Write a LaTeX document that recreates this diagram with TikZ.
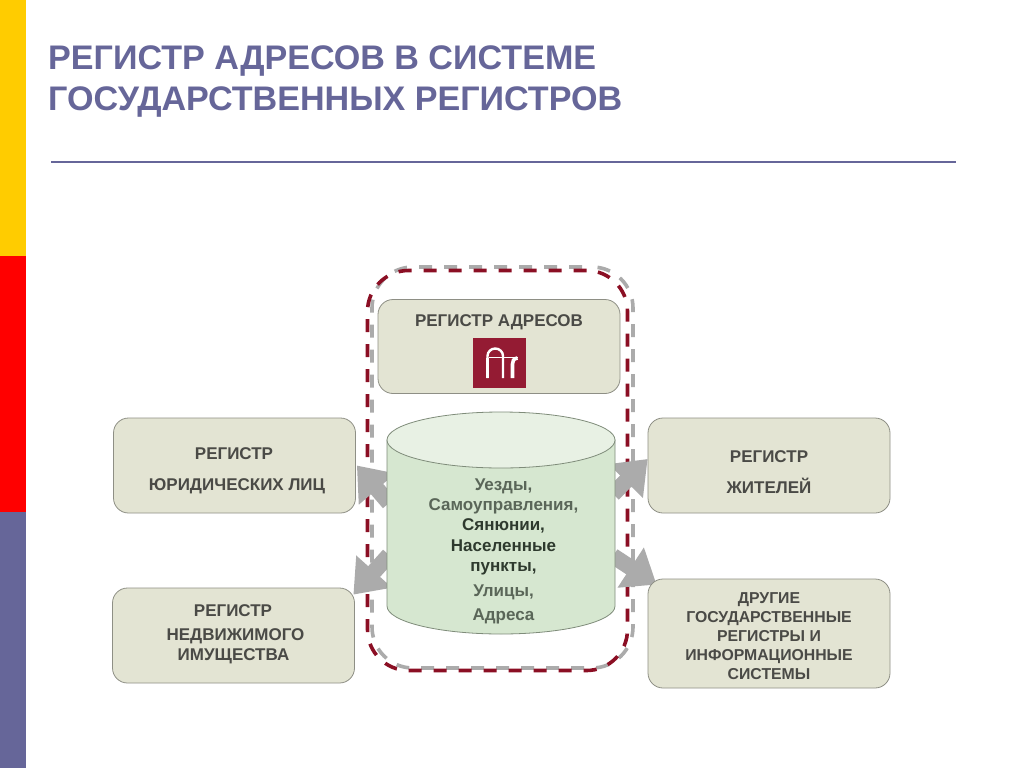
\documentclass[tikz,border=0pt]{standalone}
\usepackage{fontspec}
\setmainfont{Liberation Sans}
\usetikzlibrary{arrows.meta,shapes.geometric}
\pgfdeclarelayer{back}
\pgfdeclarelayer{mid}
\pgfsetlayers{back,mid,main}
\definecolor{barpurple}{HTML}{666699}
\definecolor{baryellow}{HTML}{FFCC00}
\definecolor{boxfill}{HTML}{E3E4D3}
\definecolor{boxline}{HTML}{8E8F85}
\definecolor{cylbody}{HTML}{D6E7D0}
\definecolor{cyltop}{HTML}{E8F1E4}
\definecolor{cylline}{HTML}{7F8C7A}
\definecolor{arrowgray}{HTML}{ABABAB}
\definecolor{dashred}{HTML}{8B0F24}
\definecolor{logored}{HTML}{941B33}
\definecolor{boxtext}{HTML}{4A4A46}
\definecolor{cyltext}{HTML}{5A6658}
\definecolor{cyldark}{HTML}{2E3A2E}
\tikzset{
  regbox/.style={draw=boxline,fill=boxfill,line width=0.8pt,rounded corners=15pt,inner sep=0pt,minimum width=242pt},
  boxlabel/.style={text=boxtext,font=\fontsize{17}{20}\bfseries\selectfont,anchor=base,inner sep=0pt},
  smalllabel/.style={text=boxtext,font=\fontsize{15.8}{19}\bfseries\selectfont,anchor=base,inner sep=0pt},
  cyllabel/.style={text=cyltext,font=\fontsize{17}{20}\bfseries\selectfont,anchor=base,inner sep=0pt},
  titlelabel/.style={text=barpurple,font=\fontsize{34.1}{40}\bfseries\selectfont,anchor=base west,inner sep=0pt},
  frameg/.style={draw=arrowgray,line width=3.6pt,dash pattern=on 13pt off 12pt,dash phase=15pt,rounded corners=41pt,inner sep=0pt},
  framer/.style={draw=dashred,line width=3.6pt,dash pattern=on 13pt off 12pt,rounded corners=41pt,inner sep=0pt},
  blockarrow/.style={draw=arrowgray,line width=16pt,-{Triangle[length=31pt,width=46pt,fill=arrowgray]}},
  logostroke/.style={draw=white,line width=2.4pt}
}
\begin{document}
\begin{tikzpicture}[x=1pt,y=-1pt]
\useasboundingbox (0,0) rectangle (1024,768);
\begin{pgfonlayer}{back}
\fill[white] (0,0) rectangle (1024,768);
\end{pgfonlayer}
% side bars
\fill[baryellow] (0,0) rectangle (26,256);
\fill[red] (0,256) rectangle (26,512);
\fill[barpurple] (0,512) rectangle (26,768);
% title
\node[titlelabel] (t1) at (48,69) {РЕГИСТР АДРЕСОВ В СИСТЕМЕ};
\node[titlelabel] (t2) at (48,110) {ГОСУДАРСТВЕННЫХ РЕГИСТРОВ};
\draw[barpurple,line width=2pt] (51,161.5) -- (956,161.5);
% named anchors for connector tails
\coordinate (tailLT) at (389,503);
\coordinate (tailLB) at (389,555);
\coordinate (tailRT) at (613,494);
\coordinate (tailRB) at (613,556);
% boxes
\node[regbox,minimum height=95pt] (jur) at (234.5,465.5) {};
\node[regbox,minimum height=95pt] (kin) at (233.5,635.5) {};
\node[regbox,minimum height=95pt] (zhi) at (769,465.5) {};
\node[regbox,minimum height=109pt] (oth) at (769,633.5) {};
% frames
\begin{pgfonlayer}{back}
\node[frameg,minimum width=261pt,minimum height=401pt] (fg) at (502.5,467.5) {};
\node[framer,minimum width=260pt,minimum height=400pt] (fr) at (497.5,470.5) {};
\end{pgfonlayer}
% arrows, over the frames and under boxes
\begin{pgfonlayer}{mid}
\draw[blockarrow] (tailLT) -- ([xshift=1pt]jur.east);
\draw[blockarrow] (tailRT) -- ([yshift=6.5pt]zhi.west);
\draw[blockarrow] (tailLB) -- ([xshift=-1.5pt,yshift=-7pt]kin.north east);
\draw[blockarrow] (tailRB) -- ([xshift=9pt,yshift=-6pt]oth.north west);
\end{pgfonlayer}
% address register box
\node[regbox,minimum height=94pt] (adr) at (499,346.5) {};
\node[boxlabel] (adrt) at (499,326) {РЕГИСТР АДРЕСОВ};
\node[fill=logored,minimum width=53pt,minimum height=50pt,inner sep=0pt] (logo) at (499.5,363) {};
\draw[logostroke] (487.5,378) -- (487.5,356) arc[start angle=180,end angle=360,x radius=7.75,y radius=7.5] -- (503,378);
\draw[logostroke,line width=3.6pt] (487.5,378) -- (487.5,358);
\draw[logostroke,line width=0.8pt] (489,357) -- (518,357);
\draw[logostroke,line width=3.6pt] (512.5,378) -- (512.5,364) .. controls (512.5,361) and (513.5,358.5) .. (517.5,358);
% cylinder
\path[draw=cylline,line width=0.8pt,fill=cylbody]
  (387,440) -- (387,606) arc[start angle=180,end angle=0,x radius=114,y radius=28] -- (615,440) -- cycle;
\node[draw=cylline,line width=0.8pt,fill=cyltop,ellipse,minimum width=228pt,minimum height=56pt,inner sep=0pt] (cyl) at (501,440) {};
% cylinder text
\node[cyllabel] (c1) at (503.5,490.5) {Уезды,};
\node[cyllabel] (c2) at (503.5,510.5) {Самоуправления,};
\node[cyllabel,text=cyldark] (c3) at (503.5,530.5) {Сянюнии,};
\node[cyllabel,text=cyldark] (c4) at (503.5,551) {Населенные};
\node[cyllabel,text=cyldark] (c5) at (503.5,571.5) {пункты,};
\node[cyllabel] (c6) at (503.5,596.5) {Улицы,};
\node[cyllabel] (c7) at (503.5,620.5) {Адреса};
% box text
\node[boxlabel] (j1) at (234,459) {РЕГИСТР};
\node[boxlabel] (j2) at (237,490) {ЮРИДИЧЕСКИХ ЛИЦ};
\node[boxlabel] (k1) at (233,616) {РЕГИСТР};
\node[boxlabel] (k2) at (235.5,640) {НЕДВИЖИМОГО};
\node[boxlabel] (k3) at (233.5,660.5) {ИМУЩЕСТВА};
\node[boxlabel] (z1) at (769,462.5) {РЕГИСТР};
\node[boxlabel] (z2) at (769,493) {ЖИТЕЛЕЙ};
\node[smalllabel] (o1) at (769,603.5) {ДРУГИЕ};
\node[smalllabel] (o2) at (769,622.5) {ГОСУДАРСТВЕННЫЕ};
\node[smalllabel] (o3) at (769,641) {РЕГИСТРЫ И};
\node[smalllabel] (o4) at (769,660) {ИНФОРМАЦИОННЫЕ};
\node[smalllabel] (o5) at (769,679) {СИСТЕМЫ};
\end{tikzpicture}
\end{document}
